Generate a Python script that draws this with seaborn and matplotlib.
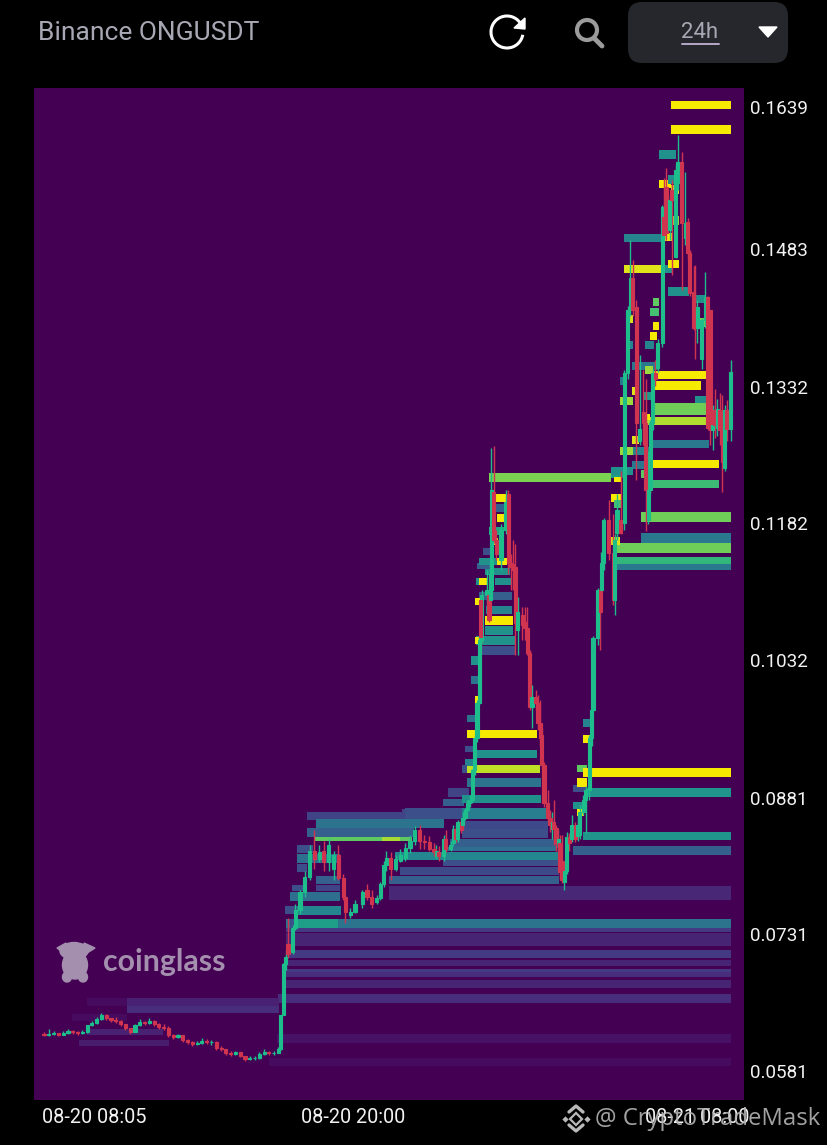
import numpy as np
import matplotlib
matplotlib.use("Agg")
import matplotlib.pyplot as plt
from matplotlib.colors import LinearSegmentedColormap
from matplotlib.patches import Arc, Circle, Ellipse, FancyBboxPatch, Polygon
import seaborn as sns

sns.set_theme(style="dark")
plt.rcParams['font.family'] = ['Roboto', 'DejaVu Sans']

title = "Binance ONGUSDT"
interval = "24h"
brand = "coinglass"
credit = "@ CryptoTradeMask"
price_ticks = [0.1639, 0.1483, 0.1332, 0.1182, 0.1032, 0.0881, 0.0731, 0.0581]
time_tick_pos = [20.9, 129.3, 273.2]
time_tick_labels = ["08-20 08:05", "08-20 20:00", "08-21 08:00"]

# quiet first part of the session: one candle per 10 minutes, open = previous close
early_start = 0.0622
early_close = [.0621,.0622,.0623,.0621,.0623,.0625,.0624,.0623,.0624,.0631,.0634,.0638,.0643,.0639,.0637,.0636,.0633,.0628,.0624,.0631,
               .0635,.0634,.0636,.0633,.0629,.0628,.0620,.0618,.0620,.0615,.0613,.0611,.0612,.0614,.0613,.0613,.0606,.0605,.0601,.0600,
               .0602,.0598,.0594,.0595,.0595,.0600,.0602,.0601,.0601,.0605]
early_high = [.0624,.0627,.0625,.0623,.0625,.0627,.0626,.0625,.0626,.0632,.0636,.0640,.0645,.0644,.0638,.0640,.0637,.0633,.0627,.0633,
              .0638,.0636,.0639,.0637,.0634,.0633,.0630,.0622,.0622,.0620,.0616,.0614,.0614,.0617,.0616,.0615,.0614,.0608,.0605,.0603,
              .0603,.0601,.0597,.0597,.0598,.0602,.0605,.0603,.0603,.0607]
early_low = [.0619,.0619,.0620,.0619,.0620,.0622,.0622,.0621,.0622,.0623,.0630,.0633,.0637,.0637,.0635,.0634,.0630,.0626,.0622,.0624,
             .0630,.0632,.0633,.0630,.0627,.0626,.0618,.0616,.0617,.0613,.0611,.0609,.0610,.0611,.0611,.0610,.0604,.0603,.0599,.0598,
             .0599,.0596,.0592,.0593,.0593,.0594,.0599,.0599,.0599,.0602]

# volatile part of the session
t = [99,100,101,102,104,105,107,109,111,113,115,117,119,121,123,125,126,128,130,133,135,137,139,140.5,142,143,145,147,149,151,153,155,157,159,161,
     163,164,165,167,168,170,171,172,173,174.5,175,176,177,178,179,180,181,182,183,182.5,185,186,186.5,187,188,189,191,193,194,195,196,197,198,200,201,202,203,204,
     205.5,206.5,207.5,208,209,210.5,211.5,212.5,213,214,215,215.5,216.5,217.5,218.5,219.5,220.5,222,223,224,225.5,226.5,228,229,229.5,231.5,232.5,233,234,236,238,238.5,239.5,241,
     242.5,244,245,246,247.5,249,250.5,251.5,252.5,253.5,254.5,255.5,256.5,258.5,259,260,261.5,262.5,264,265,266.5,268,269,270,271.5,272,273,275,276.5,277.5,278.5,279.5,280.5,281.5,282.5,283.5,284.5,285.5,287]
o = [.0605,.0643,.0698,.0720,.0712,.0738,.0758,.0777,.0794,.0823,.0814,.0823,.0810,.0803,.0818,.0793,.0772,.0752,.0756,.0764,.0780,.0772,.0766,.0771,.0786,.0807,.0815,.0803,.0812,.0815,.0826,.0834,.0845,.0834,.0832,
     .0825,.0817,.0821,.0817,.0836,.0825,.0831,.0847,.0836,.0854,.0851,.0859,.0867,.0875,.0879,.0911,.0946,.0985,.1054,.1098,.1104,.1104,.1098,.1109,.1216,.1164,.1142,.1175,.1214,.1139,.1137,.1134,.1065,.1082,.1074,.1067,.1040,.0980,
     .0991,.0985,.0963,.0950,.0917,.0875,.0859,.0847,.0854,.0848,.0831,.0831,.0812,.0788,.0801,.0838,.0836,.0851,.0839,.0840,.0865,.0879,.0889,.0947,.0977,.1056,.1109,.1109,.1139,.1186,.1150,.1098,.1172,.1186,
     .1183,.1347,.1416,.1451,.1419,.1273,.1304,.1292,.1186,.1219,.1292,.1347,.1353,.1380,.1518,.1551,.1504,.1548,.1474,.1556,.1579,.1495,.1513,.1479,.1436,.1416,.1396,.1363,.1405,.1430,.1416,.1284,.1306,.1287,.1306,.1286,.1243,.1306,.1286]
c = [.0643,.0698,.0706,.0709,.0738,.0758,.0777,.0794,.0823,.0814,.0821,.0810,.0829,.0818,.0793,.0772,.0756,.0756,.0764,.0777,.0772,.0764,.0771,.0786,.0807,.0815,.0803,.0814,.0818,.0826,.0834,.0845,.0834,.0832,.0825,
     .0821,.0823,.0817,.0836,.0825,.0829,.0847,.0836,.0854,.0845,.0859,.0867,.0875,.0879,.0911,.0946,.0985,.1054,.1104,.1057,.1109,.1076,.1126,.1219,.1164,.1148,.1175,.1206,.1139,.1134,.1131,.1073,.1085,.1071,.1067,.1040,.0980,.0991,
     .0985,.0963,.0947,.0917,.0875,.0859,.0851,.0854,.0847,.0831,.0836,.0799,.0791,.0801,.0838,.0831,.0851,.0836,.0851,.0865,.0879,.0889,.0947,.0977,.1056,.1109,.1085,.1139,.1186,.1150,.1098,.1164,.1197,.1172,
     .1347,.1416,.1451,.1416,.1292,.1286,.1292,.1219,.1219,.1292,.1347,.1341,.1380,.1529,.1499,.1501,.1537,.1537,.1570,.1579,.1512,.1512,.1479,.1435,.1396,.1396,.1419,.1405,.1430,.1287,.1284,.1290,.1290,.1308,.1284,.1249,.1306,.1286,.1348]
h = [.0643,.0700,.0714,.0749,.0741,.0764,.0780,.0801,.0829,.0845,.0829,.0834,.0836,.0823,.0829,.0797,.0774,.0760,.0769,.0780,.0786,.0780,.0774,.0789,.0812,.0823,.0821,.0818,.0825,.0831,.0840,.0850,.0851,.0840,.0839,
     .0831,.0829,.0828,.0840,.0845,.0834,.0851,.0851,.0856,.0858,.0865,.0870,.0879,.0884,.0913,.0950,.0988,.1058,.1109,.1104,.1131,.1109,.1139,.1265,.1267,.1175,.1181,.1219,.1219,.1148,.1164,.1159,.1101,.1090,.1090,.1090,.1043,.1005,
     .0999,.0994,.0988,.0958,.0920,.0889,.0867,.0865,.0879,.0851,.0845,.0840,.0840,.0807,.0843,.0842,.0862,.0854,.0862,.0873,.0884,.0894,.0950,.0988,.1058,.1111,.1111,.1151,.1188,.1208,.1192,.1170,.1214,.1240,
     .1350,.1421,.1493,.1471,.1427,.1367,.1350,.1341,.1262,.1295,.1352,.1361,.1384,.1532,.1561,.1572,.1543,.1559,.1575,.1608,.1590,.1568,.1517,.1482,.1465,.1466,.1427,.1407,.1458,.1432,.1416,.1312,.1330,.1319,.1325,.1323,.1312,.1317,.1361]
l = [.0604,.0642,.0692,.0705,.0709,.0736,.0753,.0772,.0791,.0803,.0810,.0800,.0800,.0791,.0791,.0769,.0744,.0749,.0754,.0760,.0769,.0760,.0764,.0769,.0783,.0801,.0791,.0801,.0810,.0812,.0820,.0829,.0825,.0825,.0823,
     .0817,.0814,.0812,.0812,.0821,.0823,.0828,.0832,.0832,.0842,.0847,.0856,.0865,.0871,.0875,.0906,.0942,.0983,.1051,.1043,.1087,.1074,.1092,.1104,.1161,.1142,.1131,.1170,.1126,.1109,.1109,.1038,.1038,.1054,.1054,.1038,.0977,.0958,
     .0977,.0955,.0938,.0913,.0871,.0854,.0843,.0836,.0829,.0823,.0821,.0791,.0787,.0780,.0797,.0823,.0832,.0832,.0834,.0836,.0862,.0842,.0879,.0938,.0975,.1049,.1043,.1098,.1131,.1142,.1092,.1082,.1164,.1170,
     .1175,.1341,.1410,.1410,.1230,.1268,.1268,.1174,.1181,.1214,.1284,.1333,.1348,.1376,.1493,.1493,.1493,.1455,.1473,.1548,.1438,.1488,.1471,.1432,.1394,.1363,.1380,.1352,.1396,.1284,.1268,.1263,.1276,.1278,.1268,.1216,.1240,.1273,.1272]

# liquidation bands: start, end (candle index), price, thickness, intensity
band_start = [144.5,101.5,101.5,101.5,101.5,101.5,101.5,101.5,98,101.5,97.5,94.5,35,18,35,12,18,15,
              110,114,110,150,106,106,106,114,104,114,103,106,101,123,106,103,113.5,141.5,
              151,175,175,175,170,167.5,147,167,149,144.5,
              169,167,177,175,177,176.5,179.5,176.5,177,175,179,177,180.5,183.5,181,180.5,184.5,184.5,185,182,180.5,181,189,182,184.5,181.5,182,189.5,184,187.5,186.5,189.5,187.5,188.5,179,
              186.5,237.5,238.5,237.5,238.5,250,250,240,237.5,239,239,
              221.5,221.5,221.5,227,223,225.5,223,221.5,223,225.5,225.5,225.5,
              257.5,257.5,261,262.5,261,262.5,243,258.5,243,260,261,261,272.5,255,253.5,255,253.5,251.5,245,273.5,244,246,251.5,255.5,254,241,246,241,251,272.5,254,251,251,253.5,246,244,241,246,253.5,237.5,250,253.5,262.5,262.5]
band_end = [287.5,287.5,287.5,287.5,287.5,287.5,287.5,287.5,287.5,287.5,287.5,287.5,98.5,35,98.5,35,50,52.5,
            167.5,167.5,155,161,112.5,124,110,124,110,124,124,124.5,106,287.5,123,106,154,149,
            175,210,211,211,215,214.5,215,215,215.5,215.5,
            178,176,208,208,207.5,181,206.5,181,206.5,177,182,182,182,197.5,197.5,182,196.5,196.5,196,196,183.5,185.5,195.5,185.5,195,187.5,194,194,187.5,190,192.5,192.5,192.5,193.5,182,
            237.5,243.5,241.5,241.5,242,287.5,287.5,287.5,241,287.5,287.5,
            227,226,287.5,287.5,227.5,287.5,227.5,226,226,229.5,229.5,287.5,
            264.5,262.5,264,266,262.5,266,260,263.5,260,263.5,266,270,276.5,257.5,257.5,257.5,256.5,255.5,246.5,277.5,246.5,257.5,255,277.5,275,244,249,246.5,255.5,277.5,277.5,277.5,253.5,278.5,249,253.5,246.5,253.5,282.5,246.5,253.5,282.5,287.5,287.5]
band_price = [.0777,.0743,.0736,.0725,.0710,.0700,.0691,.0687,.0661,.0677,.0617,.0591,.0657,.0657,.0649,.0640,.0624,.0612,
              .0861,.0853,.0843,.0866,.0825,.0814,.0804,.0791,.0782,.0782,.0772,.0757,.0758,.0743,.0743,.0743,.0836,.0836,
              .0864,.0864,.0851,.0842,.0831,.0825,.0817,.0810,.0801,.0791,
              .0887,.0876,.0898,.0880,.0913,.0920,.0929,.0935,.0951,.0913,.1010,.0968,.0988,.1043,.1054,.1054,.1065,.1076,.1087,.1103,.1096,.1118,.1118,.1118,.1129,.1136,.1140,.1140,.1151,.1162,.1174,.1188,.1199,.1210,.1032,
              .1232,.1237,.1230,.1210,.1204,.1189,.1166,.1155,.1163,.1140,.1134,
              .0891,.0872,.0823,.0887,.0913,.0839,.0898,.0872,.0865,.0963,.0946,.0909,
              .1587,.1555,.1560,.1549,.1527,.1515,.1496,.1497,.1462,.1462,.1467,.1437,.1429,.1426,.1415,.1399,.1388,.1378,.1407,.1403,.1378,.1355,.1351,.1345,.1334,.1339,.1328,.1317,.1322,.1318,.1308,.1295,.1299,.1270,.1274,.1262,.1262,.1247,.1248,.1240,.1237,.1226,.1642,.1615]
band_height = [.0014,.0009,.0004,.0013,.0008,.0006,.0004,.0005,.0008,.0008,.0008,.0008,.0008,.0008,.0006,.0006,.0006,.0006,
               .0008,.0008,.0009,.0006,.0008,.0009,.0008,.0008,.0006,.0006,.0009,.0009,.0008,.0009,.0009,.0009,.0004,.0004,
               .0012,.0012,.0008,.0008,.0008,.0004,.0008,.0006,.0008,.0008,
               .0008,.0006,.0008,.0008,.0008,.0006,.0008,.0006,.0008,.0008,.0007,.0007,.0007,.0008,.0008,.0006,.0008,.0008,.0008,.0008,.0007,.0007,.0007,.0007,.0007,.0006,.0007,.0007,.0007,.0007,.0008,.0007,.0007,.0008,.0008,
               .0009,.0008,.0005,.0008,.0008,.0009,.0009,.0009,.0008,.0009,.0005,
               .0007,.0007,.0009,.0008,.0007,.0008,.0008,.0007,.0006,.0008,.0008,.0009,
               .0009,.0008,.0008,.0008,.0008,.0008,.0008,.0008,.0008,.0008,.0008,.0008,.0008,.0008,.0008,.0008,.0008,.0008,.0008,.0008,.0008,.0008,.0008,.0008,.0008,.0008,.0008,.0008,.0008,.0008,.0012,.0008,.0006,.0008,.0008,.0008,.0008,.0008,.0008,.0008,.0008,.0008,.0008,.0008]
band_level = [.11,.38,.17,.10,.17,.10,.17,.13,.13,.10,.05,.03,.09,.03,.13,.03,.09,.08,
              .20,.38,.30,.20,.24,.36,.24,.30,.24,.20,.36,.46,.24,.38,.56,.24,.75,.87,
              .24,.42,.22,.24,.30,.36,.46,.24,.22,.30,
              .20,.30,.38,.50,.90,.45,.50,.24,1,.24,.38,.38,1,.24,.50,1,.50,1,.45,.30,1,.50,.50,1,.50,.30,.50,1,.24,.97,.60,1,.30,1,.50,
              .80,.55,1,1,.70,.78,.40,.78,.95,.66,.40,
              .24,.50,.30,.52,.75,.52,1,.50,1,.45,1,1,
              .50,1,.50,.93,.85,.85,.45,1,.95,.50,1,.50,.50,.75,.70,1,1,.45,.93,.80,.45,.40,.85,1,1,.40,.95,.85,.55,.50,.78,.88,1,.40,.95,.45,.85,.40,1,.50,.75,.68,1,1]

XMIN, XMAX, YMIN, YMAX = -4.2, 292.6, 0.05492, 0.16599
DX, DP = 0.5, 0.0001

fig = plt.figure(figsize=(8.28, 11.45), dpi=100, facecolor="black")
axes_box = [34/828, 1-1100/1145, 710/828, 1012/1145]
ax_heat = fig.add_axes(axes_box)
n_rows = int(round((YMAX-YMIN)/DP))
n_cols = int(round((XMAX-XMIN)/DX))
grid = np.zeros((n_rows, n_cols))
for s, e, p, th, lv in zip(band_start, band_end, band_price, band_height, band_level):
    j0, j1 = int(round((s-XMIN)/DX)), int(round((e-XMIN)/DX))
    r0, r1 = int(np.floor((p-th/2-YMIN)/DP)), int(np.ceil((p+th/2-YMIN)/DP))
    grid[r0:r1, j0:j1] = lv
vir = plt.get_cmap("viridis")(np.linspace(0, 1, 40))
vir[-1, :3] = (0.965, 0.92, 0.0)
heat_cmap = LinearSegmentedColormap.from_list("vir_y", vir)
sns.heatmap(grid[::-1], ax=ax_heat, cmap=heat_cmap, vmin=0, vmax=1, cbar=False,
            xticklabels=False, yticklabels=False)
ax_heat.set_xlabel(""); ax_heat.set_ylabel("")

ax = fig.add_axes(axes_box, facecolor="none")
ax.set_xlim(XMIN, XMAX); ax.set_ylim(YMIN, YMAX)
ax.grid(False)
for sp in ax.spines.values():
    sp.set_visible(False)

early_t = np.arange(len(early_close))*2.0
early_o = np.r_[early_start, early_close[:-1]]
all_t = np.r_[early_t, t]
all_o = np.r_[early_o, o]
all_c = np.r_[early_close, c]
all_h = np.r_[early_high, h]
all_l = np.r_[early_low, l]
up = all_c >= all_o
GREEN, RED = "#1dbd8c", "#d1344f"
cols = np.where(up, GREEN, RED)
ax.vlines(all_t, all_l, all_h, colors=cols, linewidth=1.0, zorder=3)
ax.bar(all_t, np.abs(all_c-all_o), bottom=np.minimum(all_o, all_c), width=1.3, color=cols,
       edgecolor=cols, linewidth=0.8, zorder=4)

ax.yaxis.tick_right()
ax.set_yticks(price_ticks)
ax.set_yticklabels([f"{v:.4f}" for v in price_ticks])
ax.set_xticks(time_tick_pos)
ax.set_xticklabels(time_tick_labels)
ax.tick_params(axis="y", length=0, pad=4.0, labelsize=13.6, labelcolor="#f2f2f2")
ax.tick_params(axis="x", length=0, pad=5.5, labelsize=14.3, labelcolor="#f2f2f2")

# interface furniture, placed in figure pixels
ui = fig.add_axes([0, 0, 1, 1], facecolor="none")
ui.set_xlim(0, 828); ui.set_ylim(1145, 0); ui.axis("off")
ui.text(38, 33.5, title, color="#a8a8b4", fontsize=19, va="center", ha="left")
ui.add_patch(Arc((507, 32), 32, 32, theta1=10, theta2=325, color="white", lw=2.2))
ui.add_patch(Polygon([[525, 18], [525, 29], [514, 28]], color="white"))
ui.add_patch(Circle((587, 30), 10, fill=False, ec="#9b9b9b", lw=3))
ui.plot([594, 602], [38, 46], color="#9b9b9b", lw=3.5, solid_capstyle="round")
ui.add_patch(FancyBboxPatch((628, 2), 160, 61, boxstyle="round,pad=0,rounding_size=14",
                            fc="#26272c", ec="none"))
ui.text(700, 33, interval, color="#a8a8b4", fontsize=16, ha="center", va="center")
ui.plot([682, 719], [44, 44], color="#b6a8c8", lw=1.4)
ui.add_patch(Polygon([[759, 27], [777, 27], [768, 37]], color="white"))

logo = "#a48fae"
ui.add_patch(Ellipse((74, 951), 28, 17, color=logo))
ui.add_patch(Polygon([[57, 948], [66, 943], [66, 955]], color=logo))
ui.add_patch(Polygon([[95, 948], [84, 943], [84, 955]], color=logo))
ui.add_patch(Ellipse((75, 965), 25, 28, color=logo))
ui.add_patch(Ellipse((67, 977), 9, 10, color=logo))
ui.add_patch(Ellipse((83, 977), 9, 10, color=logo))
ui.text(103, 962, brand, color=logo, fontsize=21.8, fontweight="bold", family="Lato", ha="left", va="center")

bn = "#b9b9b9"
ui.plot([569, 576, 583], [1112, 1106, 1112], color=bn, lw=2.4)
ui.plot([569, 576, 583], [1125, 1131, 1125], color=bn, lw=2.4)
ui.plot([565, 587], [1118.5, 1118.5], ls="none", marker="D", ms=3.2, color=bn, mew=0)
ui.plot([576], [1118.5], ls="none", marker="D", ms=6, mfc="none", mec=bn, mew=1.6)
ui.text(595, 1119, credit, color="#b4b4b4", fontsize=17.2, ha="left", va="center", family="Open Sans", alpha=0.9)

fig.savefig("out.png", dpi=100, facecolor="black")
